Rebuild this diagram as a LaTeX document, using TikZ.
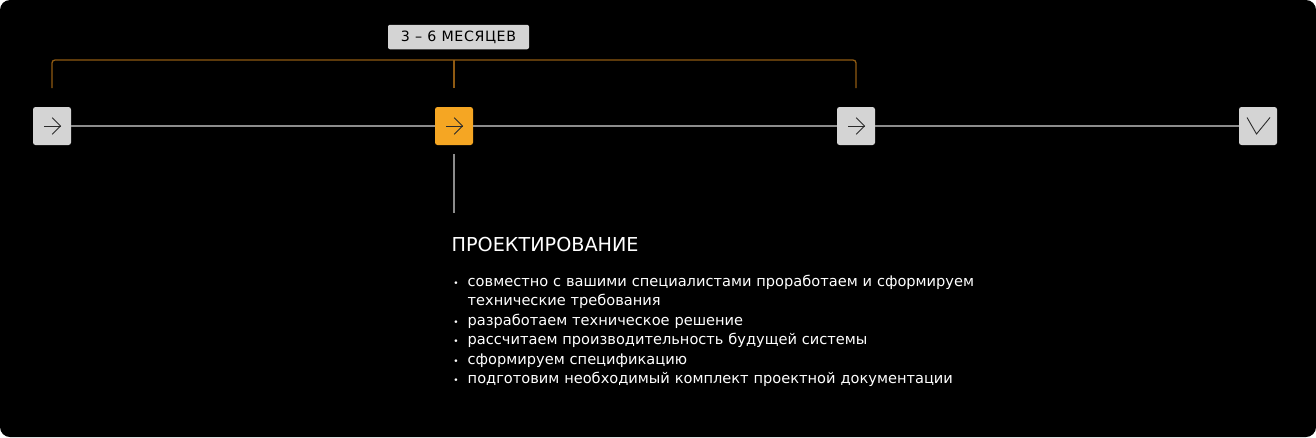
\documentclass[tikz,border=0pt]{standalone}
\usepackage{fontspec}
\setmainfont{DejaVu Sans}
\usetikzlibrary{calc, positioning}
\definecolor{boxgray}{HTML}{D4D4D4}
\definecolor{boxorange}{HTML}{F5A623}
\definecolor{bracecol}{HTML}{8F5A12}
\definecolor{linegray}{HTML}{8C8C8C}
\definecolor{iconcol}{HTML}{2B2B2B}
\newcommand{\dotitem}{\leavevmode\llap{{\fontsize{9}{9}\selectfont •}\hspace{9pt}}}

\begin{document}
\begin{tikzpicture}[x=1pt, y=-1pt,
    stepbox/.style = {fill=boxgray, rounded corners=2.5pt,
        minimum size=38pt, inner sep=0pt},
    track/.style = {draw=linegray, line width=1.3pt},
    bracket/.style = {draw=bracecol, line width=1.3pt, rounded corners=3pt},
    icon/.style = {draw=iconcol, line width=0.9pt},
    tag/.style = {fill=boxgray, rounded corners=2pt, inner sep=0pt,
        minimum width=141pt, minimum height=24.5pt,
        font=\fontsize{14.2}{15}\selectfont\addfontfeature{LetterSpace=4.5}},
    head/.style = {text=white, inner sep=0pt, font=\fontsize{19.2}{20}\selectfont},
    items/.style = {text=white, inner sep=0pt, text width=560pt, align=left,
        font=\fontsize{14.6}{19.5}\selectfont}
  ]
  \fill[white] (0,0) rectangle (1316,437);
  \fill[black, rounded corners=10pt] (0,0) rectangle (1316,437);
  \useasboundingbox (0,0) rectangle (1316,437);

  % stages
  \node[stepbox] (s1) at (52,126) {};
  \node[stepbox, fill=boxorange] (s2) at (454,126) {};
  \node[stepbox] (s3) at (856,126) {};
  \node[stepbox] (s4) at (1258,126) {};

  \draw[track] (s1) -- (s2) -- (s3) -- (s4);

  \foreach \s in {s1, s2, s3} {
    \draw[icon] ($(\s)+(-8,0)$) -- ($(\s)+(8.5,0)$);
    \draw[icon] ($(\s)+(0.2,-8.3)$) -- ($(\s)+(8.5,0)$) -- ($(\s)+(0.2,8.3)$);
  }
  \draw[icon] ($(s4)+(-11,-8.5)$) -- ($(s4)+(-1.5,8)$) -- ($(s4)+(12,-8.5)$);

  % duration
  \draw[bracket] ($(s1)+(0,-38)$) |- ($(s3)+(0,-66)$) -- ($(s3)+(0,-38)$);
  \draw[bracket] ($(s2)+(0,-38)$) -- ($(s2)+(0,-66)$);
  \node[tag] (dur) at (458.5,37) {3 – 6 МЕСЯЦЕВ};

  % description
  \coordinate (top) at ($(s2)+(0,28)$);
  \coordinate (drop) at ($(s2)+(0,86.5)$);
  \draw[track] (top) -- (drop);

  \node[head, anchor=base west] (title) at (451.5,251) {ПРОЕКТИРОВАНИЕ};
  \node[items, anchor=base west] (list) at (467.5,286) {%
    \dotitem совместно с вашими специалистами проработаем и сформируем\\
    технические требования\\
    \dotitem разработаем техническое решение\\
    \dotitem рассчитаем производительность будущей системы\\
    \dotitem сформируем спецификацию\\
    \dotitem подготовим необходимый комплект проектной документации};
\end{tikzpicture}
\end{document}
